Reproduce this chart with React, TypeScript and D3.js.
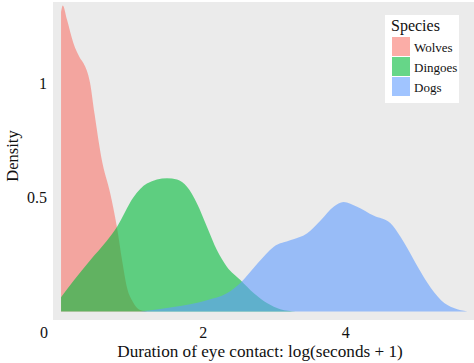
import React from 'react'
import * as d3 from 'd3'

// density curves: [log(seconds + 1), density]
const wolves: [number, number][] = [
  [0, 1.31], [0.024, 1.34], [0.085, 1.276], [0.173, 1.175], [0.268, 1.109],
  [0.314, 1.088], [0.408, 1.0], [0.469, 0.869], [0.573, 0.663], [0.69, 0.519],
  [0.785, 0.37], [0.86, 0.22], [0.925, 0.107], [1.01, 0.042], [1.11, 0.007], [1.25, 0],
]

const dingoes: [number, number][] = [
  [0, 0.063], [0.173, 0.134], [0.41, 0.225], [0.644, 0.31], [0.785, 0.37], [1.018, 0.5],
  [1.207, 0.56], [1.489, 0.583], [1.63, 0.578], [1.77, 0.546], [1.91, 0.473],
  [2.05, 0.371], [2.19, 0.269], [2.33, 0.196], [2.52, 0.138], [2.71, 0.08],
  [2.9, 0.036], [3.08, 0.01], [3.3, 0],
]

const dogs: [number, number][] = [
  [1.11, 0], [1.58, 0.02], [2.05, 0.05], [2.33, 0.08], [2.52, 0.125],
  [2.76, 0.21], [2.99, 0.284], [3.23, 0.313], [3.46, 0.343], [3.65, 0.4],
  [3.83, 0.459], [3.97, 0.48], [4.16, 0.459], [4.39, 0.42], [4.63, 0.386],
  [4.77, 0.327], [4.96, 0.225], [5.15, 0.125], [5.34, 0.05], [5.52, 0.015], [5.71, 0],
]

const species = ['Wolves', 'Dingoes', 'Dogs']
const colors = ['#F8766D', '#00BA38', '#619CFF']
const xTicks = [2, 4]
const yTicks = [0.5, 1]

const W = 474
const H = 363
const font = '"Liberation Serif", "Times New Roman", serif'

export default function App() {
  const x = d3.scaleLinear().domain([-0.113, 5.803]).range([53, 474])
  const y = d3.scaleLinear().domain([-0.037, 1.355]).range([320, 2])

  const area = d3
    .area<[number, number]>()
    .x((d) => x(d[0]))
    .y0(y(0))
    .y1((d) => y(d[1]))
    .curve(d3.curveMonotoneX)

  const series = [wolves, dingoes, dogs]
  const [x0, x1] = x.range()
  const [yb, yt] = y.range()

  return (
    <svg
      width={W}
      height={H}
      style={{ position: 'absolute', left: 0, top: 0, background: '#fff' }}
      fontFamily={font}
    >
      <rect x={x0} y={yt} width={x1 - x0} height={yb - yt} fill="#EBEBEB" />
      {series.map((s, i) => (
        <path key={species[i]} d={area(s) || ''} fill={colors[i]} fillOpacity={0.6} />
      ))}

      {yTicks.map((t) => (
        <text key={t} x={x0 - 6} y={y(t)} dy="0.35em" textAnchor="end" fontSize={16} fill="#111">
          {t}
        </text>
      ))}
      {xTicks.map((t) => (
        <text key={t} x={x(t)} y={332} dy="0.35em" textAnchor="middle" fontSize={16} fill="#111">
          {t}
        </text>
      ))}
      <text x={x(0) - 17} y={332} dy="0.35em" textAnchor="middle" fontSize={16} fill="#111">
        0
      </text>

      <text
        transform={`translate(12, ${(yt + yb) / 2 - 5}) rotate(-90)`}
        dy="0.35em"
        textAnchor="middle"
        fontSize={16.5}
        fill="#111"
      >
        Density
      </text>
      <text x={260} y={357} textAnchor="middle" fontSize={17.2} fill="#111">
        Duration of eye contact: log(seconds + 1)
      </text>

      <g transform="translate(385, 15)">
        <rect width={74} height={88} fill="#fff" />
        <text x={6} y={16} fontSize={16} fill="#111">
          Species
        </text>
        {species.map((s, i) => (
          <g key={s} transform={`translate(7, ${22 + i * 20})`}>
            <rect width={18} height={19} fill={colors[i]} fillOpacity={0.6} />
            <text x={22} y={10} dy="0.35em" fontSize={13} fill="#111">
              {s}
            </text>
          </g>
        ))}
      </g>
    </svg>
  )
}
